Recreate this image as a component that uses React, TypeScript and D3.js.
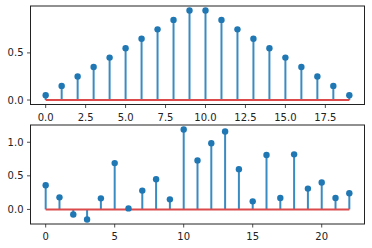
import React from "react";
import * as d3 from "d3";

const topX = d3.range(20);
const topValues = [0.05, 0.15, 0.25, 0.35, 0.45, 0.55, 0.65, 0.75, 0.85, 0.95, 0.95, 0.85, 0.75, 0.65, 0.55, 0.45, 0.35, 0.25, 0.15, 0.05];
const topXTicks = [0, 2.5, 5, 7.5, 10, 12.5, 15, 17.5];
const topYTicks = [0, 0.5];

const botX = d3.range(23);
const botValues = [0.36, 0.18, -0.075, -0.15, 0.165, 0.69, 0.015, 0.28, 0.45, 0.15, 1.19, 0.73, 0.985, 1.16, 0.6, 0.12, 0.81, 0.17, 0.82, 0.31, 0.4, 0.17, 0.24];
const botXTicks = [0, 5, 10, 15, 20];
const botYTicks = [0, 0.5, 1.0];

const W = 372;
const H = 248;

function Stem({ xs, ys, xTicks, yTicks, top, bottom, xFmt }: any) {
  const left = 30.5;
  const right = 364.5;
  const xmin = d3.min(xs) as number;
  const xmax = d3.max(xs) as number;
  const xm = (xmax - xmin) * 0.05;
  const ymin = Math.min(0, d3.min(ys) as number);
  const ymax = Math.max(0, d3.max(ys) as number);
  const ym = (ymax - ymin) * 0.05;
  const x = d3.scaleLinear().domain([xmin - xm, xmax + xm]).range([left, right]);
  const y = d3.scaleLinear().domain([ymin - ym, ymax + ym]).range([bottom, top]);
  const blue = "#1f77b4";
  return (
    <g>
      {xs.map((xv: number, i: number) => (
        <line key={"s" + i} x1={x(xv)} x2={x(xv)} y1={y(0)} y2={y(ys[i])} stroke="#3a8bc2" strokeWidth={2} />
      ))}
      <line x1={x(xmin)} x2={x(xmax)} y1={y(0)} y2={y(0)} stroke="#dc4a4b" strokeWidth={2} />
      {xs.map((xv: number, i: number) => (
        <circle key={"c" + i} cx={x(xv)} cy={y(ys[i])} r={3.2} fill={blue} />
      ))}
      <rect x={left} y={top} width={right - left} height={bottom - top} fill="none" stroke="#222" strokeWidth={1} />
      {xTicks.map((t: number) => (
        <g key={"xt" + t}>
          <line x1={x(t)} x2={x(t)} y1={bottom} y2={bottom + 3.5} stroke="#222" strokeWidth={0.8} />
          <text x={x(t)} y={bottom + 16.3} textAnchor="middle" fontSize={10} fontFamily="DejaVu Sans" fill="#222">{xFmt(t)}</text>
        </g>
      ))}
      {yTicks.map((t: number) => (
        <g key={"yt" + t}>
          <line x1={left} x2={left - 3.5} y1={y(t)} y2={y(t)} stroke="#222" strokeWidth={0.8} />
          <text x={left - 7} y={y(t) + 3.6} textAnchor="end" fontSize={10} fontFamily="DejaVu Sans" fill="#222">{t.toFixed(1)}</text>
        </g>
      ))}
    </g>
  );
}

export default function App() {
  return (
    <svg width={W} height={H} style={{ position: "absolute", left: 0, top: 0, background: "#fff" }}>
      <rect width={W} height={H} fill="#fff" />
      <Stem xs={topX} ys={topValues} xTicks={topXTicks} yTicks={topYTicks} top={6} bottom={104.5} xFmt={(t: number) => t.toFixed(1)} />
      <Stem xs={botX} ys={botValues} xTicks={botXTicks} yTicks={botYTicks} top={125} bottom={224} xFmt={(t: number) => String(t)} />
    </svg>
  );
}
